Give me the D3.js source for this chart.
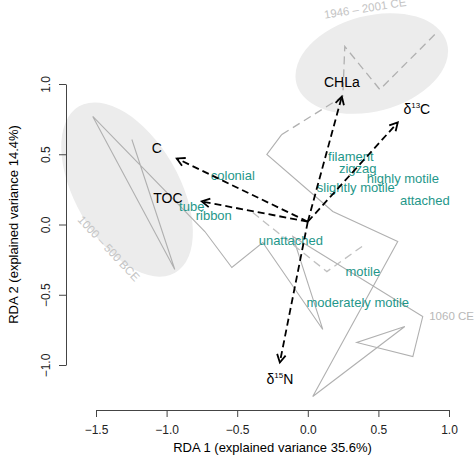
<!DOCTYPE html>
<html><head><meta charset="utf-8">
<script src="https://cdn.jsdelivr.net/npm/d3@7"></script>
<style>body{margin:0;background:#fff}text{font-family:"Liberation Sans",Arial,sans-serif}</style>
</head><body><div id="chart"></div>
<script>
// sample trajectory (RDA 1, RDA 2)
const solidPath = [[-1.246,0.605],[-0.942,-0.320],[-1.523,0.769],[-0.729,-0.050],[-0.538,-0.306],[-0.319,-0.128],
  [0.106,-0.747],[-0.106,-0.085],[0.814,-0.655],[0.744,-0.940],[0.347,-0.840],[0.687,-0.726],[0.035,-1.224],
  [0.637,-0.121],[0.177,0.093],[-0.290,0.498],[-0.184,0.641]];
const dashedPath = [[-0.184,0.641],[0.248,0.911],[0.262,1.267],[0.510,0.961],[0.914,1.367]];
const dashedMid = [[-0.390,0.085],[0.135,-0.335],[0.404,-0.142]];
const envNames = ["C","TOC","CHLa","δ13C","δ15N"];
const envArrows = [[-0.928,0.470],[-0.751,0.164],[0.241,0.911],[0.637,0.726],[-0.198,-0.982]];
const envLabelPos = [[-1.069,0.541],[-0.991,0.192],[0.241,1.011],[0.772,0.819],[-0.198,-1.103]];
const traitNames = ["colonial","filament","zigzag","highly motile","slightly motile","attached","tube","ribbon","unattached","motile","moderately motile"];
const traitPos = [[-0.531,0.349],[0.305,0.484],[0.354,0.399],[0.673,0.327],[0.340,0.263],[0.829,0.171],[-0.822,0.128],[-0.666,0.064],[-0.120,-0.114],[0.390,-0.335],[0.354,-0.555]];
const xTicks = [-1.5,-1.0,-0.5,0.0,0.5,1.0];
const yTicks = [-1.0,-0.5,0.0,0.5,1.0];

const W = 474, H = 465;
const x = d3.scaleLinear().domain([-1.5,1]).range([96,449]);
const y = d3.scaleLinear().domain([-1,1]).range([365,84]);
const svg = d3.select("#chart").append("svg").attr("width",W).attr("height",H);

// period ellipses
function ell(cx, cy, rx, ry, rot) {
  const ux = x(0) - x(-1), uy = y(0) - y(1);
  svg.append("ellipse").attr("cx",x(cx)).attr("cy",y(cy)).attr("rx",rx*ux).attr("ry",ry*uy)
    .attr("transform",`rotate(${rot},${x(cx)},${y(cy)})`).attr("fill","#ececec");
}
ell(0.453,1.146,0.552,0.34,-15);
ell(-1.28,0.249,0.68,0.37,60);

const line = d3.line().x(d=>x(d[0])).y(d=>y(d[1]));
svg.append("path").attr("d",line(solidPath)).attr("fill","none").attr("stroke","#b0b0b0").attr("stroke-width",1.1);
svg.append("path").attr("d",line(dashedPath)).attr("fill","none").attr("stroke","#b0b0b0").attr("stroke-width",1.3).attr("stroke-dasharray","8,5");
svg.append("path").attr("d",line(dashedMid)).attr("fill","none").attr("stroke","#c0c0c0").attr("stroke-width",1.3).attr("stroke-dasharray","8,5");

// period labels
svg.append("text").attr("transform",`translate(${x(0.41)},${y(1.51)}) rotate(-9)`).attr("text-anchor","middle")
  .attr("fill","#c4c4c4").attr("font-size",11.5).text("1946 – 2001 CE");
svg.append("text").attr("transform",`translate(${x(-1.43)},${y(-0.19)}) rotate(47)`).attr("text-anchor","middle")
  .attr("fill","#c4c4c4").attr("font-size",11.5).text("1000 – 500 BCE");
svg.append("text").attr("x",x(0.86)).attr("y",y(-0.68)).attr("fill","#b8b8b8").attr("font-size",11.5).text("1060 CE");

// trait labels
svg.selectAll(".trait").data(traitNames).join("text").attr("class","trait")
  .attr("x",(d,i)=>x(traitPos[i][0])).attr("y",(d,i)=>y(traitPos[i][1])+4.5)
  .attr("text-anchor","middle").attr("font-size",13).attr("fill","#1f978a").text(d=>d);

// environmental arrows
const o = [0,0.02];
envArrows.forEach(a => {
  const x0=x(o[0]), y0=y(o[1]), x1=x(a[0]), y1=y(a[1]);
  svg.append("line").attr("x1",x0).attr("y1",y0).attr("x2",x1).attr("y2",y1)
    .attr("stroke","#000").attr("stroke-width",1.8).attr("stroke-dasharray","7,4");
  const ang = Math.atan2(y1-y0,x1-x0), L=9;
  const p = [[x1-L*Math.cos(ang-0.5),y1-L*Math.sin(ang-0.5)],[x1,y1],[x1-L*Math.cos(ang+0.5),y1-L*Math.sin(ang+0.5)]];
  svg.append("path").attr("d",d3.line()(p)).attr("fill","none").attr("stroke","#000").attr("stroke-width",1.8);
});
envNames.forEach((n,i) => {
  const t = svg.append("text").attr("x",x(envLabelPos[i][0])).attr("y",y(envLabelPos[i][1])+5)
    .attr("text-anchor","middle").attr("font-size",14).attr("fill","#000");
  if (n.startsWith("δ")) {
    t.append("tspan").text("δ");
    t.append("tspan").attr("font-size",8).attr("dy",-6).text(n.slice(1,3));
    t.append("tspan").attr("dy",6).text(n.slice(3));
  } else t.text(n);
});

// axes
const ax = svg.append("g").attr("transform","translate(0,410)")
  .call(d3.axisBottom(x).tickValues(xTicks).tickFormat(d3.format(".1f")).tickSize(7).tickSizeOuter(0));
const ay = svg.append("g").attr("transform","translate(66,0)")
  .call(d3.axisLeft(y).tickValues(yTicks).tickFormat(d3.format(".1f")).tickSize(7).tickSizeOuter(0));
[ax,ay].forEach(g=>{g.selectAll("path,line").attr("stroke","#444");g.selectAll("text").attr("font-size",12).attr("fill","#222").style("font-family","Liberation Sans, Arial, sans-serif");});
ax.selectAll("text").attr("dy","1.2em");
ay.selectAll(".tick text").attr("transform","rotate(-90)").attr("x",0).attr("y",-16).attr("dy","0").attr("text-anchor","middle");

svg.append("text").attr("x",x(-0.25)).attr("y",452).attr("text-anchor","middle").attr("font-size",13).text("RDA 1 (explained variance 35.6%)");
svg.append("text").attr("transform",`translate(18,${y(0)}) rotate(-90)`).attr("text-anchor","middle").attr("font-size",13).text("RDA 2 (explained variance 14.4%)");
</script></body></html>
